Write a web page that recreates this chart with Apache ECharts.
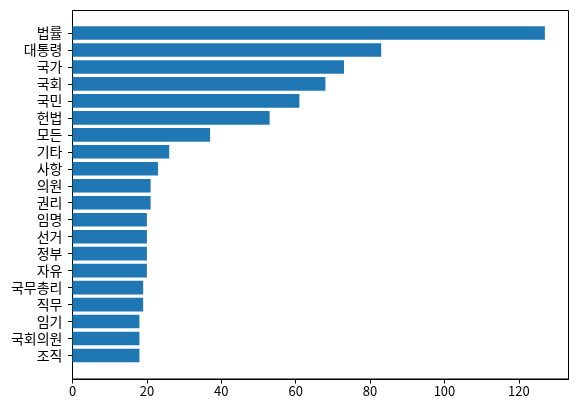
<!DOCTYPE html>
<html><head><meta charset="utf-8">
<script src="https://cdn.jsdelivr.net/npm/echarts@6/dist/echarts.min.js"></script>
<style>html,body{margin:0;padding:0;background:#fff}#c{width:577px;height:412px}</style>
</head><body><div id="c"></div>
<script>
const categories = ['법률','대통령','국가','국회','국민','헌법','모든','기타','사항','의원','권리','임명','선거','정부','자유','국무총리','직무','임기','국회의원','조직'];
const counts = [127,83,73,68,61,53,37,26,23,21,21,20,20,20,20,19,19,18,18,18];
const xTicks = [0,20,40,60,80,100,120];
const xMax = 133.35;

const font = '"Noto Sans CJK KR", "Noto Sans", sans-serif';
const chart = echarts.init(document.getElementById('c'), null, {renderer:'canvas'});
chart.setOption({
  animation:false,
  backgroundColor:'#fff',
  grid:[
    {left:72.5, right:8.5, top:10.5, bottom:33, show:true, borderColor:'#000', borderWidth:1, backgroundColor:'transparent'},
    {left:72.5, right:8.5, top:24.5, bottom:48}
  ],
  xAxis:[
    {gridIndex:0, type:'value', min:0, max:xMax, interval:20,
     axisLine:{show:true, lineStyle:{color:'#000', width:1}},
     axisTick:{show:true, length:4.5, lineStyle:{color:'#000'}},
     splitLine:{show:false},
     axisLabel:{color:'#000', fontSize:13, fontFamily:font, margin:6,
       formatter:v => xTicks.includes(v) ? String(v) : '', showMaxLabel:false}},
    {gridIndex:1, type:'value', min:0, max:xMax, show:false}
  ],
  yAxis:[
    {gridIndex:0, type:'value', min:0, max:1, show:false},
    {gridIndex:1, type:'category', inverse:true, data:categories,
     axisLine:{show:false},
     axisTick:{show:true, alignWithLabel:true, interval:0, length:4.5, lineStyle:{color:'#000'}},
     axisLabel:{color:'#000', fontSize:14, fontFamily:font, margin:10, interval:0, hideOverlap:false},
     splitLine:{show:false}}
  ],
  series:[{
    type:'bar', xAxisIndex:1, yAxisIndex:1, data:counts,
    barWidth:'80%', itemStyle:{color:'#1f77b4'}
  }]
});
</script></body></html>
